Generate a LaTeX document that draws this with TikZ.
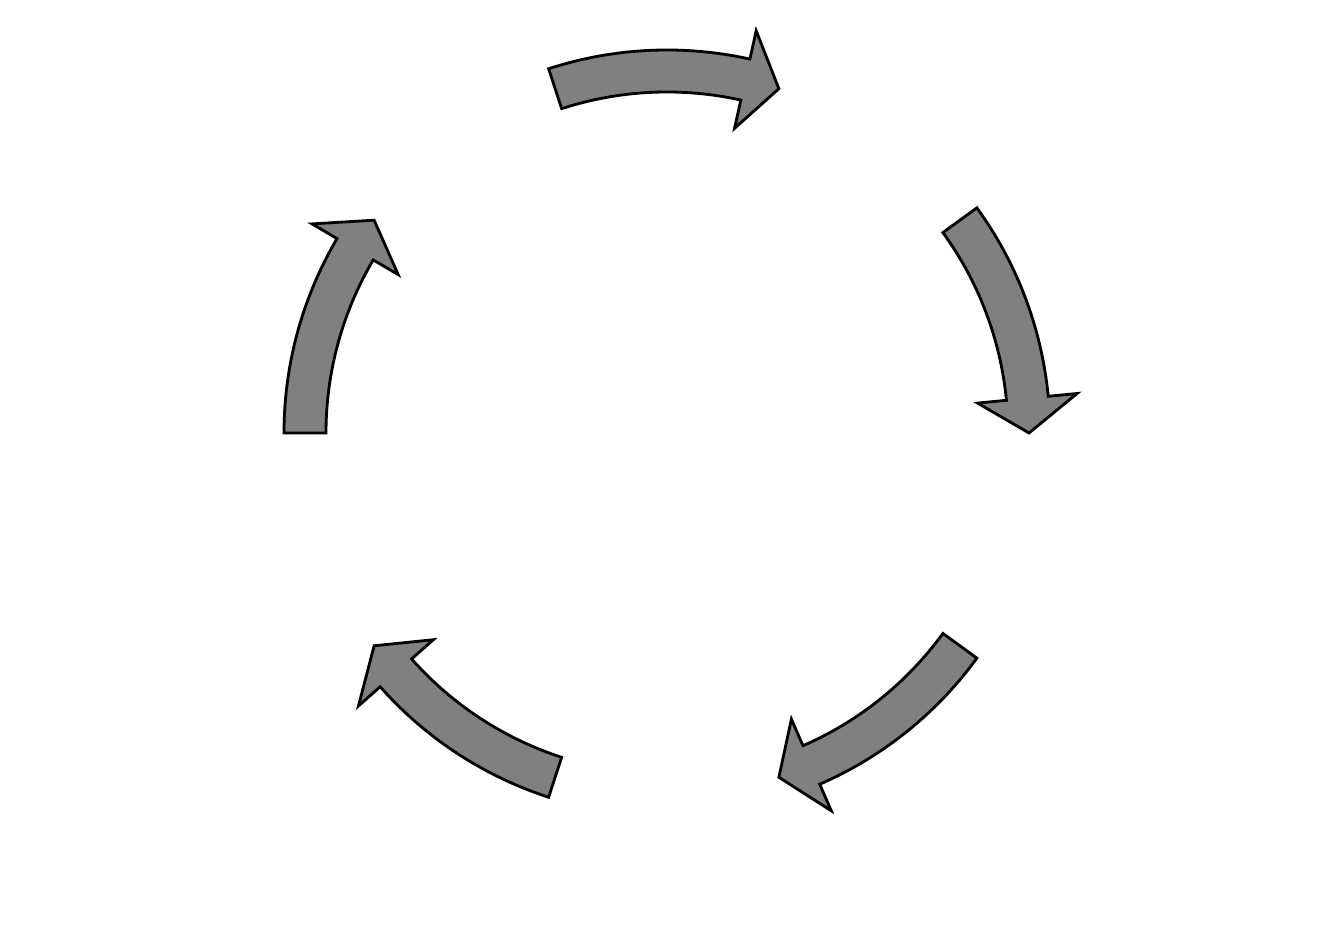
\documentclass[tikz,border=0pt]{standalone}
\begin{document}
\begin{tikzpicture}[x=0.01cm,y=0.01cm]
\useasboundingbox (0,0) rectangle (1334,952);
\tikzset{cyc/.style={fill=gray,draw=black,line width=0.8pt}}
\def\R{362}\def\w{21}\def\hw{50}
\begin{scope}[shift={(667,519)}]
\foreach \tip in {0,72,144,216,288}{
  \pgfmathsetmacro\tail{\tip+36}
  \pgfmathsetmacro\hb{\tip+5.5}
  \draw[cyc] (\tail:\R+\w) arc[start angle=\tail,end angle=\hb,radius=\R+\w]
    -- (\hb:\R+\hw) -- (\tip:\R) -- (\hb:\R-\hw) -- (\hb:\R-\w)
    arc[start angle=\hb,end angle=\tail,radius=\R-\w] -- cycle;
}
\end{scope}
\end{tikzpicture}
\end{document}
